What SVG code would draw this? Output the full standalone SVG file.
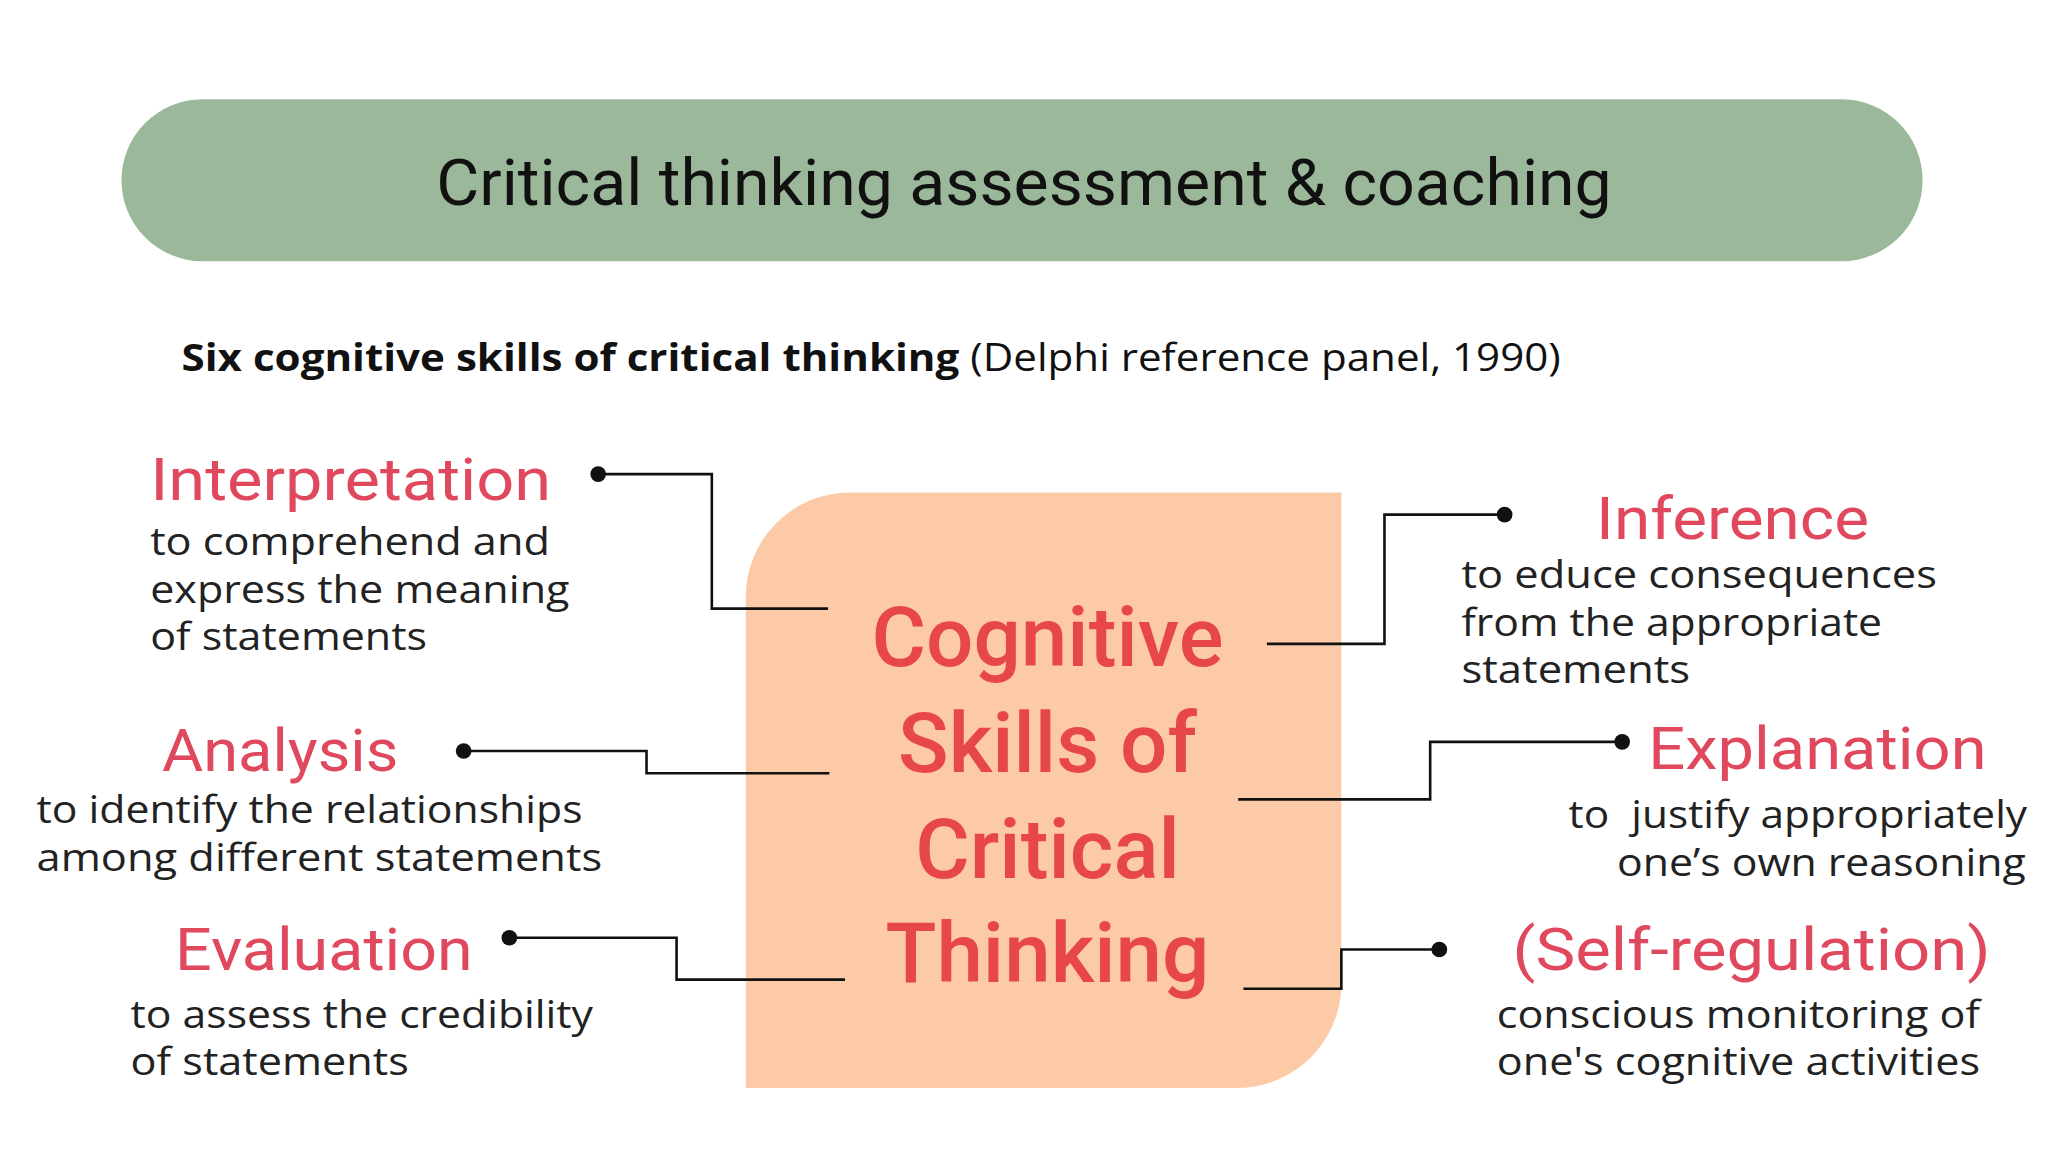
<svg xmlns="http://www.w3.org/2000/svg" width="2048" height="1152" viewBox="0 0 2048 1152">
<style>
.t{font-family:Roboto,"Liberation Sans",sans-serif;fill:#e0485e;font-size:46px}
.d{font-family:"Open Sans","Liberation Sans",sans-serif;fill:#222;font-size:29px}
.c{fill:none;stroke:#111;stroke-width:2}
.dot{fill:#111}
</style>
<rect width="2048" height="1152" fill="#fff"/>
<g transform="scale(1.3061)">
<g id="banner">
<rect x="93" y="76" width="1379" height="124" rx="62" fill="#9bb89b"/>
<text x="334" y="157" textLength="900" lengthAdjust="spacingAndGlyphs" font-family="Roboto,'Liberation Sans',sans-serif" font-size="50" fill="#111">Critical thinking assessment &amp; coaching</text>
</g>
<g id="subtitle">
<text x="139" y="284" textLength="1056" lengthAdjust="spacingAndGlyphs" font-family="'Open Sans','Liberation Sans',sans-serif" font-size="29" fill="#111"><tspan font-weight="bold">Six cognitive skills of critical thinking</tspan> (Delphi reference panel, 1990)</text>
</g>
<g id="center">
<path d="M651,377 H1027 V753 A80,80 0 0 1 947,833 H571 V457 A80,80 0 0 1 651,377 Z" fill="#fccaa6"/>
<g font-family="Roboto,'Liberation Sans',sans-serif" font-size="64" fill="#e8474a" text-anchor="middle" font-weight="500">
<text x="802" y="510">Cognitive</text>
<text x="802" y="591">Skills of</text>
<text x="802" y="672">Critical</text>
<text x="802" y="752">Thinking</text>
</g>
</g>
<g id="connectors">
<polyline class="c" points="458,363 545,363 545,466 634,466"/><circle class="dot" cx="458" cy="363" r="6"/>
<polyline class="c" points="355,575 495,575 495,592 635,592"/><circle class="dot" cx="355" cy="575" r="6"/>
<polyline class="c" points="390,718 518,718 518,750 647,750"/><circle class="dot" cx="390" cy="718" r="6"/>
<polyline class="c" points="970,493 1060,493 1060,394 1152,394"/><circle class="dot" cx="1152" cy="394" r="6"/>
<polyline class="c" points="948,612 1095,612 1095,568 1242,568"/><circle class="dot" cx="1242" cy="568" r="6"/>
<polyline class="c" points="952,757 1027,757 1027,727 1102,727"/><circle class="dot" cx="1102" cy="727" r="6"/>
</g>
<g id="interpretation">
<text class="t" x="115" y="383" textLength="307" lengthAdjust="spacingAndGlyphs">Interpretation</text>
<text class="d" x="115" y="425" textLength="306" lengthAdjust="spacingAndGlyphs">to comprehend and</text>
<text class="d" x="115" y="462" textLength="321" lengthAdjust="spacingAndGlyphs">express the meaning</text>
<text class="d" x="115" y="498" textLength="212" lengthAdjust="spacingAndGlyphs">of statements</text>
</g>
<g id="analysis">
<text class="t" x="124" y="590" textLength="181" lengthAdjust="spacingAndGlyphs">Analysis</text>
<text class="d" x="28" y="630" textLength="418" lengthAdjust="spacingAndGlyphs">to identify the relationships</text>
<text class="d" x="28" y="667" textLength="433" lengthAdjust="spacingAndGlyphs">among different statements</text>
</g>
<g id="evaluation">
<text class="t" x="134" y="743" textLength="228" lengthAdjust="spacingAndGlyphs">Evaluation</text>
<text class="d" x="100" y="787" textLength="354" lengthAdjust="spacingAndGlyphs">to assess the credibility</text>
<text class="d" x="100" y="823" textLength="213" lengthAdjust="spacingAndGlyphs">of statements</text>
</g>
<g id="inference">
<text class="t" x="1222" y="413" textLength="209" lengthAdjust="spacingAndGlyphs">Inference</text>
<text class="d" x="1119" y="450" textLength="364" lengthAdjust="spacingAndGlyphs">to educe consequences</text>
<text class="d" x="1119" y="487" textLength="322" lengthAdjust="spacingAndGlyphs">from the appropriate</text>
<text class="d" x="1119" y="523" textLength="175" lengthAdjust="spacingAndGlyphs">statements</text>
</g>
<g id="explanation">
<text class="t" x="1262" y="589" textLength="259" lengthAdjust="spacingAndGlyphs">Explanation</text>
<text class="d" x="1201" y="634" textLength="351" lengthAdjust="spacingAndGlyphs" xml:space="preserve">to  justify appropriately</text>
<text class="d" x="1238" y="671" textLength="313" lengthAdjust="spacingAndGlyphs">one’s own reasoning</text>
</g>
<g id="selfregulation">
<text class="t" x="1158" y="743" textLength="366" lengthAdjust="spacingAndGlyphs">(Self-regulation)</text>
<text class="d" x="1146" y="787" textLength="370" lengthAdjust="spacingAndGlyphs">conscious monitoring of</text>
<text class="d" x="1146" y="823" textLength="370" lengthAdjust="spacingAndGlyphs">one's cognitive activities</text>
</g>
</g>
</svg>
